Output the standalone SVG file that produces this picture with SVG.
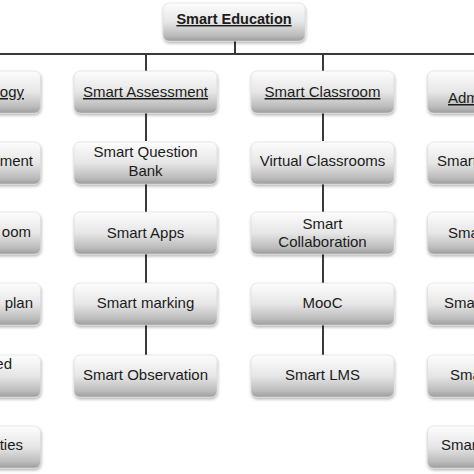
<svg xmlns="http://www.w3.org/2000/svg" width="474" height="474" viewBox="0 0 474 474">
<defs>
<linearGradient id="g" x1="0" y1="0" x2="0" y2="1">
<stop offset="0" stop-color="#fdfdfd"/>
<stop offset="0.5" stop-color="#e6e6e6"/>
<stop offset="0.85" stop-color="#bcbcbc"/>
<stop offset="1" stop-color="#9d9d9d"/>
</linearGradient>
<filter id="sh" x="-10%" y="-20%" width="120%" height="150%">
<feDropShadow dx="0.5" dy="2" stdDeviation="1.5" flood-color="#000" flood-opacity="0.3"/>
</filter>
</defs>
<style>
.box{fill:url(#g);stroke:#d8d8d8;stroke-width:0.6;filter:url(#sh)}
.t{font-family:"Liberation Sans",Arial,sans-serif;font-size:15px;fill:#1b1b1b;text-anchor:middle}
.l{text-anchor:end}
.r{text-anchor:start}
.u{text-decoration:underline}
.b{font-weight:bold;font-size:14.5px}
.c{stroke:#3a3a3a;stroke-width:2;fill:none}
</style>
<rect width="474" height="474" fill="#ffffff"/>
<g id="connectors">
<path class="c" d="M235 41V54M0 54H474M146 54V71M323 54V71"/>
<path class="c" d="M146 113V141M146 184V212M146 254V283M146 325V355"/>
<path class="c" d="M323 113V141M323 184V212M323 254V283M323 325V355"/>
</g>
<g id="smart-education"><rect class="box" x="163" y="3" width="142" height="38" rx="6"/><text class="t b u" x="234" y="24">Smart Education</text></g>
<g id="left-1"><rect class="box" x="-103" y="71" width="143.5" height="42" rx="6"/><text class="t l u" x="24" y="97">ogy</text></g>
<g id="left-2"><rect class="box" x="-103" y="142" width="143.5" height="42" rx="6"/><text class="t l" x="33" y="166">ment</text></g>
<g id="left-3"><rect class="box" x="-103" y="212" width="143.5" height="42" rx="6"/><text class="t l" x="31" y="237">oom</text></g>
<g id="left-4"><rect class="box" x="-103" y="283" width="143.5" height="42" rx="6"/><text class="t l" x="33" y="308">plan</text></g>
<g id="left-5"><rect class="box" x="-103" y="355" width="143.5" height="42" rx="6"/><text class="t l" x="12" y="369">ed</text></g>
<g id="left-6"><rect class="box" x="-103" y="426" width="143.5" height="42" rx="6"/><text class="t l" x="23" y="450">ties</text></g>
<g id="smart-assessment"><rect class="box" x="74" y="71" width="143" height="42" rx="6"/><text class="t u" x="145.5" y="97">Smart Assessment</text></g>
<g id="smart-question-bank"><rect class="box" x="74" y="142" width="143" height="42" rx="6"/><text class="t" x="145.5" y="157">Smart Question</text><text class="t" x="145.5" y="175.5">Bank</text></g>
<g id="smart-apps"><rect class="box" x="74" y="212" width="143" height="42" rx="6"/><text class="t" x="145.5" y="238">Smart Apps</text></g>
<g id="smart-marking"><rect class="box" x="74" y="283" width="143" height="42" rx="6"/><text class="t" x="145.5" y="308">Smart marking</text></g>
<g id="smart-observation"><rect class="box" x="74" y="355" width="143" height="42" rx="6"/><text class="t" x="145.5" y="380">Smart Observation</text></g>
<g id="smart-classroom"><rect class="box" x="251" y="71" width="143" height="42" rx="6"/><text class="t u" x="322.5" y="97">Smart Classroom</text></g>
<g id="virtual-classrooms"><rect class="box" x="251" y="142" width="143" height="42" rx="6"/><text class="t" x="322.5" y="166">Virtual Classrooms</text></g>
<g id="smart-collaboration"><rect class="box" x="251" y="212" width="143" height="42" rx="6"/><text class="t" x="322.5" y="228.5">Smart</text><text class="t" x="322.5" y="246.5">Collaboration</text></g>
<g id="mooc"><rect class="box" x="251" y="283" width="143" height="42" rx="6"/><text class="t" x="322.5" y="308">MooC</text></g>
<g id="smart-lms"><rect class="box" x="251" y="355" width="143" height="42" rx="6"/><text class="t" x="322.5" y="380">Smart LMS</text></g>
<g id="right-1"><rect class="box" x="427.5" y="71" width="143" height="42" rx="6"/><text class="t r u" x="448" y="103">Adm</text></g>
<g id="right-2"><rect class="box" x="427.5" y="142" width="143" height="42" rx="6"/><text class="t r" x="437" y="166">Smart</text></g>
<g id="right-3"><rect class="box" x="427.5" y="212" width="143" height="42" rx="6"/><text class="t r" x="448" y="238">Smart</text></g>
<g id="right-4"><rect class="box" x="427.5" y="283" width="143" height="42" rx="6"/><text class="t r" x="444" y="308">Smart</text></g>
<g id="right-5"><rect class="box" x="427.5" y="355" width="143" height="42" rx="6"/><text class="t r" x="450" y="380">Smart</text></g>
<g id="right-6"><rect class="box" x="427.5" y="426" width="143" height="42" rx="6"/><text class="t r" x="441" y="450">Smart</text></g>
</svg>
